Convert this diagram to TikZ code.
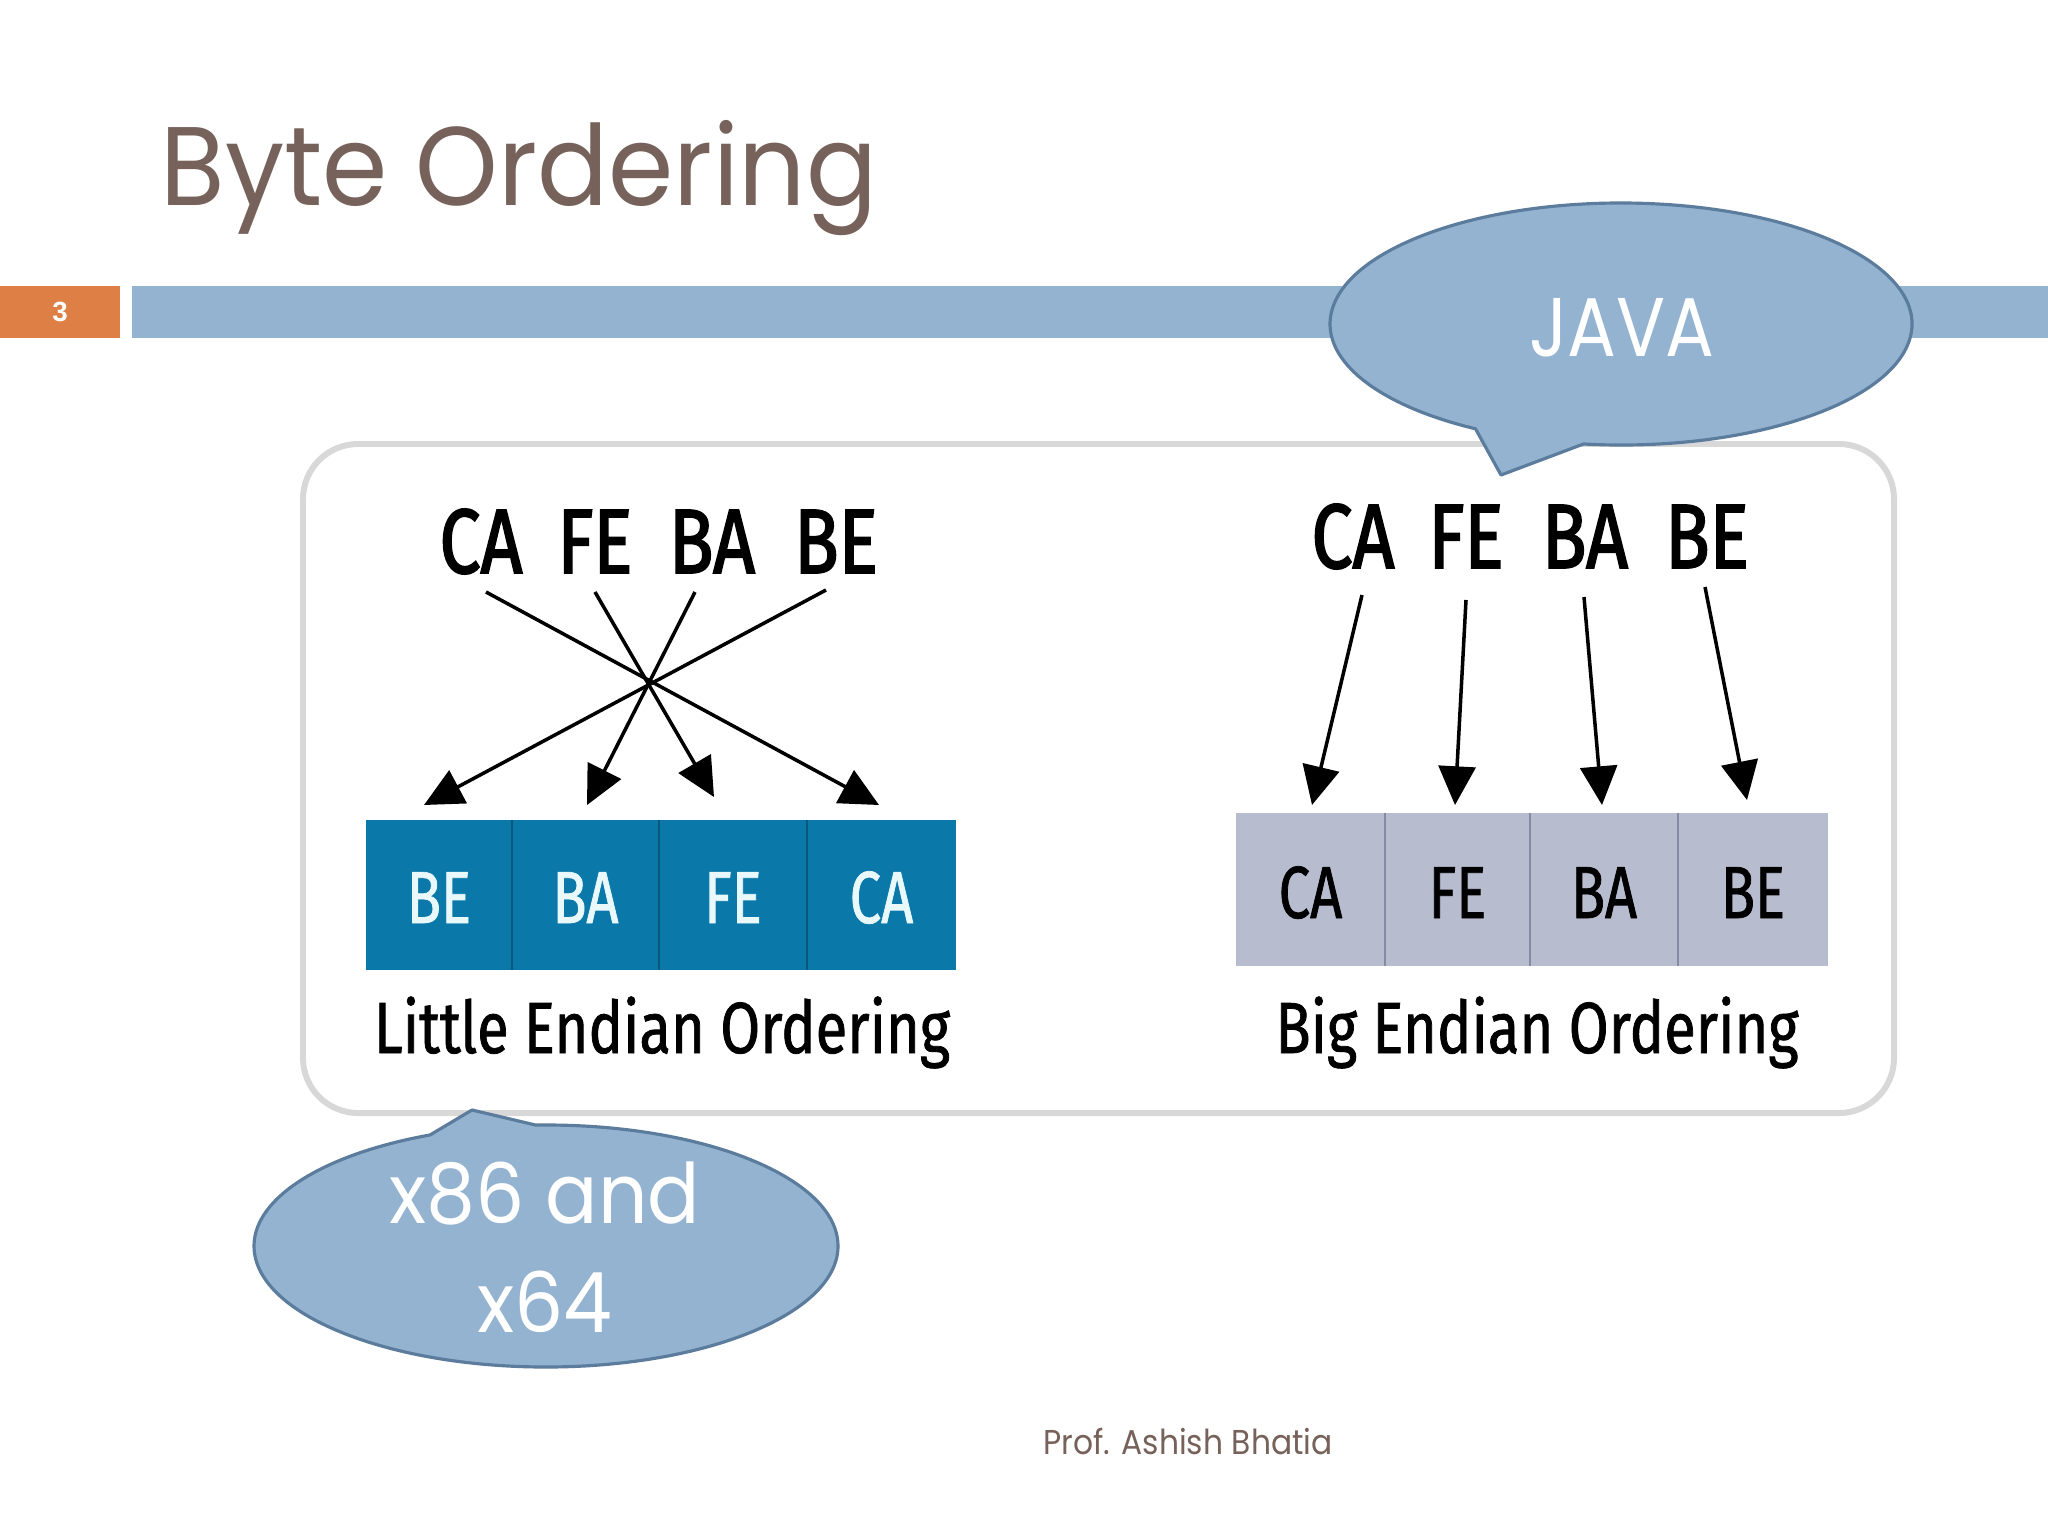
\documentclass[tikz,border=0pt]{standalone}
\usepackage{fontspec}
\usetikzlibrary{arrows.meta}
\newfontfamily\titlefont[FakeStretch=0.94]{Poppins}
\newfontfamily\javafont[FakeStretch=0.87]{Poppins}
\newfontfamily\calloutfont[FakeStretch=0.93]{Poppins}
\newfontfamily\footfont[FakeStretch=0.91]{Poppins}
\newfontfamily\condfont[FakeStretch=0.76, FakeBold=1]{Fira Sans}
\newfontfamily\condbot[FakeStretch=0.80, FakeBold=1]{Fira Sans}
\newfontfamily\condtop[FakeStretch=0.80, FakeBold=2]{Fira Sans}
\newfontfamily\arialfont{Liberation Sans}
\definecolor{titlebrown}{HTML}{76625A}
\definecolor{slideorange}{HTML}{DE7F45}
\definecolor{barblue}{HTML}{94B3D1}
\definecolor{calloutedge}{HTML}{5B7C9C}
\definecolor{framegray}{HTML}{D8D8D8}
\definecolor{tealbox}{HTML}{0A78A8}
\definecolor{tealline}{HTML}{08587C}
\definecolor{tealtext}{HTML}{E8F8FB}
\definecolor{lavbox}{HTML}{B7BCCE}
\definecolor{lavline}{HTML}{858BA0}
\begin{document}
\begin{tikzpicture}[x=0.01cm,y=-0.01cm,
  lbl/.style={inner sep=0pt, anchor=base},
  toplbl/.style={lbl, font=\condtop\fontsize{26}{26}\selectfont},
  celllbl/.style={lbl, font=\condfont\fontsize{21}{21}\selectfont},
  botlbl/.style={lbl, font=\condbot\fontsize{20.6}{20.6}\selectfont},
  callout/.style={fill=barblue, draw=calloutedge, line width=0.9pt, line join=round},
  callouttext/.style={lbl, text=white, font=\calloutfont\fontsize{23.7}{23.7}\selectfont},
  byteline/.style={line width=1pt, -{Triangle[length=11pt, width=10.5pt]}}
]
\useasboundingbox (0,0) rectangle (2048,1536);
\fill[white] (0,0) rectangle (2048,1536);

% header bar
\fill[slideorange] (0,286) rectangle (120,338);
\fill[barblue] (132,286) rectangle (2048,338);
\node[inner sep=0pt, text=white, font=\arialfont\bfseries\fontsize{7.9}{7.9}\selectfont] (pagenum) at (60,312) {3};

% title
\node[inner sep=0pt, anchor=base west, text=titlebrown, font=\titlefont\fontsize{31.8}{31.8}\selectfont] (title) at (160,205) {Byte Ordering};

% frame
\draw[framegray, line width=1.7pt, rounded corners=0.55cm] (303,444) rectangle (1894,1113);

% ---- little endian ----
\node[toplbl] (lCA) at (481,573) {CA};
\node[toplbl] (lFE) at (595,573) {FE};
\node[toplbl] (lBA) at (712,573) {BA};
\node[toplbl] (lBE) at (836,573) {BE};

\fill[tealbox] (366,820) rectangle (956,970);
\foreach \xx in {512,659,807} \draw[tealline, line width=0.6pt] (\xx,820) -- (\xx,970);
\node[celllbl, text=tealtext] (lc1) at (439,923) {BE};
\node[celllbl, text=tealtext] (lc2) at (585.5,923) {BA};
\node[celllbl, text=tealtext] (lc3) at (733,923) {FE};
\node[celllbl, text=tealtext] (lc4) at (881.5,923) {CA};
\node[botlbl] (ltitle) at (662,1053) {Little Endian Ordering};

\coordinate (sCA) at (486,592); \coordinate (tCA) at (879,805);
\coordinate (sFE) at (595,592); \coordinate (tFE) at (714,797);
\coordinate (sBA) at (695,592); \coordinate (tBA) at (587,805);
\coordinate (sBE) at (826,590); \coordinate (tBE) at (424,805);
\draw[byteline] (sCA) -- (tCA);
\draw[byteline] (sFE) -- (tFE);
\draw[byteline] (sBA) -- (tBA);
\draw[byteline] (sBE) -- (tBE);

% ---- big endian ----
\node[toplbl] (rCA) at (1353,568) {CA};
\node[toplbl] (rFE) at (1466,568) {FE};
\node[toplbl] (rBA) at (1585,568) {BA};
\node[toplbl] (rBE) at (1707,568) {BE};

\fill[lavbox] (1236,813) rectangle (1828,966);
\foreach \xx in {1385,1530,1678} \draw[lavline, line width=0.6pt] (\xx,813) -- (\xx,966);
\node[celllbl] (rc1) at (1310.5,918) {CA};
\node[celllbl] (rc2) at (1457.5,918) {FE};
\node[celllbl] (rc3) at (1604,918) {BA};
\node[celllbl] (rc4) at (1753,918) {BE};
\node[botlbl] (rtitle) at (1537,1053) {Big Endian Ordering};

\coordinate (uCA) at (1362,595); \coordinate (vCA) at (1312,805);
\coordinate (uFE) at (1466,600); \coordinate (vFE) at (1455,805);
\coordinate (uBA) at (1584,597); \coordinate (vBA) at (1602,805);
\coordinate (uBE) at (1705,587); \coordinate (vBE) at (1747,800);
\draw[byteline] (uCA) -- (vCA);
\draw[byteline] (uFE) -- (vFE);
\draw[byteline] (uBA) -- (vBA);
\draw[byteline] (uBE) -- (vBE);

% ---- callouts ----
\draw[callout] (1621,324) ++(97.4:291 and 121) arc[start angle=97.4, end angle=-240, x radius=291, y radius=121] -- (1501,475) -- cycle;
\node[callouttext, font=\javafont\fontsize{23.7}{23.7}\selectfont] (java) at (1622,356) {JAVA};

\draw[callout] (546,1246) ++(-92:292 and 121) arc[start angle=-92, end angle=246.6, x radius=292, y radius=121] -- (472,1110) -- cycle;
\node[callouttext] (x86a) at (545,1223) {x86 and};
\node[callouttext] (x86b) at (545,1332) {x64};

% footer
\node[inner sep=0pt, anchor=base west, text=titlebrown, font=\footfont\fontsize{9.8}{9.8}\selectfont] (footer) at (1043,1454) {Prof. Ashish Bhatia};
\end{tikzpicture}
\end{document}
